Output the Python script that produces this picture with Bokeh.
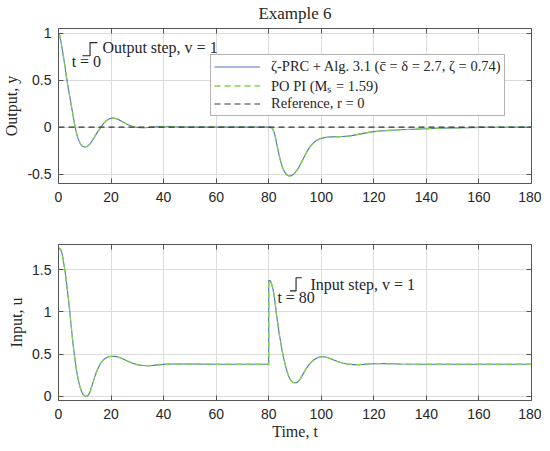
from bokeh.plotting import figure
from bokeh.layouts import column
from bokeh.models import (Range1d, FixedTicker, LinearAxis, Legend, LegendItem, Label)
from bokeh.embed import file_html
from bokeh.resources import INLINE

# ---------------- data ----------------
t_y = [0, 0.5, 1, 1.5, 2, 2.5, 3, 3.5, 4, 4.5, 5, 5.5, 6, 6.5, 7, 7.5, 8, 8.5, 9, 9.5,
       10, 10.5, 11, 12, 13, 14, 15, 16, 17, 18, 19, 20, 21, 22, 23, 24, 25, 26, 27, 28,
       29, 30, 32, 34, 36, 38, 40, 43, 46, 50, 60, 70, 80, 80.5, 81, 81.5, 82, 82.5, 83,
       83.5, 84, 84.5, 85, 85.5, 86, 86.5, 87, 87.5, 88, 88.5, 89, 89.5, 90, 91, 92, 93,
       94, 95, 96, 97, 98, 99, 100, 102, 104, 106, 108, 110, 112, 115, 118, 120, 125,
       130, 135, 140, 145, 150, 160, 170, 180]
y_prc = [1.0, 0.97, 0.9, 0.82, 0.73, 0.64, 0.54, 0.45, 0.37, 0.29, 0.21, 0.13, 0.05, -0.02,
         -0.08, -0.125, -0.16, -0.185, -0.2, -0.209, -0.212, -0.21, -0.204, -0.178, -0.137,
         -0.09, -0.045, -0.005, 0.035, 0.064, 0.084, 0.094, 0.096, 0.09, 0.078, 0.063, 0.047,
         0.032, 0.019, 0.009, 0.002, -0.003, -0.006, -0.004, 0.0, 0.003, 0.004, 0.004, 0.002,
         0.0, 0.0, 0.0, 0.0, 0.0, -0.005, -0.02, -0.05, -0.1, -0.17, -0.24, -0.305, -0.36,
         -0.41, -0.445, -0.475, -0.495, -0.51, -0.518, -0.52, -0.518, -0.51, -0.5, -0.485,
         -0.45, -0.4, -0.345, -0.29, -0.24, -0.2, -0.167, -0.145, -0.13, -0.12, -0.108,
         -0.104, -0.103, -0.1, -0.096, -0.088, -0.072, -0.056, -0.048, -0.036, -0.028,
         -0.022, -0.017, -0.012, -0.008, -0.003, -0.001, 0.0]
y_pi = list(y_prc)

t_u = [0, 0.5, 1, 1.5, 2, 2.5, 3, 3.5, 4, 4.5, 5, 5.5, 6, 6.5, 7, 7.5, 8, 8.5, 9, 9.5, 10,
       10.5, 11, 11.5, 12, 13, 14, 15, 16, 17, 18, 19, 20, 21, 22, 23, 24, 25, 26, 27, 28,
       29, 30, 32, 34, 36, 38, 40, 43, 46, 50, 60, 70, 80, 80, 80.5, 81, 81.5, 82, 82.5,
       83, 83.5, 84, 84.5, 85, 85.5, 86, 86.5, 87, 87.5, 88, 88.5, 89, 89.5, 90, 90.5, 91,
       92, 93, 94, 95, 96, 97, 98, 99, 100, 101, 102, 103, 104, 105, 106, 107, 108, 110,
       112, 114, 116, 118, 120, 123, 126, 130, 140, 150, 160, 170, 180]
u_prc = [1.74, 1.757, 1.73, 1.67, 1.58, 1.48, 1.36, 1.23, 1.09, 0.94, 0.78, 0.63, 0.5, 0.38,
         0.28, 0.2, 0.13, 0.08, 0.04, 0.017, 0.004, 0.0, 0.005, 0.02, 0.05, 0.15, 0.25, 0.33,
         0.39, 0.43, 0.455, 0.468, 0.473, 0.474, 0.47, 0.462, 0.45, 0.437, 0.422, 0.408,
         0.395, 0.384, 0.375, 0.365, 0.362, 0.366, 0.372, 0.378, 0.382, 0.383, 0.382, 0.38,
         0.38, 0.38, 1.37, 1.375, 1.34, 1.29, 1.2, 1.09, 0.96, 0.85, 0.74, 0.65, 0.56, 0.48,
         0.41, 0.35, 0.29, 0.245, 0.21, 0.185, 0.17, 0.162, 0.16, 0.162, 0.168, 0.205, 0.26,
         0.315, 0.36, 0.4, 0.428, 0.448, 0.462, 0.468, 0.468, 0.462, 0.452, 0.44, 0.428,
         0.415, 0.404, 0.395, 0.383, 0.376, 0.375, 0.378, 0.383, 0.386, 0.387, 0.385, 0.382,
         0.38, 0.38, 0.38, 0.38, 0.38]
u_pi = list(u_prc)

t_ref = [0, 180]
r_ref = [0, 0]

x_ticks = [0, 20, 40, 60, 80, 100, 120, 140, 160, 180]
y_ticks_top = [-0.5, 0, 0.5, 1]
y_labels_top = ["-0.5", "0", "0.5", "1"]
y_ticks_bot = [0, 0.5, 1, 1.5]
y_labels_bot = ["0", "0.5", "1", "1.5"]

title_text = "Example 6"
leg_labels = ["ζ-PRC + Alg. 3.1 (c̄ = δ = 2.7, ζ = 0.74)", "PO PI (Mₛ = 1.59)", "Reference, r = 0"]

# ---------------- styling ----------------
BLUE = "#4F6FC4"
GREEN = "#7ED348"
AXC = "#262626"
SERIF = "Liberation Serif"
SANS = "Liberation Sans"


def style(p, yticks, ylabels, ylabel, title=None):
    xb = p.below[0]
    yl = p.left[0]
    xb.ticker = FixedTicker(ticks=x_ticks)
    yl.ticker = FixedTicker(ticks=yticks)
    yl.major_label_overrides = {k: v for k, v in zip(yticks, ylabels)}
    p.xgrid.ticker = FixedTicker(ticks=x_ticks)
    p.ygrid.ticker = FixedTicker(ticks=yticks)
    p.grid.grid_line_color = "#dcdcdc"
    p.grid.grid_line_width = 1
    for ax in (xb, yl):
        ax.major_tick_in = 5
        ax.major_tick_out = 0
        ax.minor_tick_in = 0
        ax.minor_tick_out = 0
        ax.axis_line_color = "#555555"
        ax.major_tick_line_color = "#555555"
        ax.major_label_text_font = SANS
        ax.major_label_text_font_size = "14px"
        ax.major_label_text_color = AXC
        ax.axis_label_text_font = SERIF
        ax.axis_label_text_font_size = "16px"
        ax.axis_label_text_font_style = "normal"
        ax.axis_label_text_color = AXC
    xb.major_label_standoff = 8
    yl.major_label_standoff = 7
    yl.axis_label = ylabel
    yl.axis_label_standoff = 4
    # box: extra axes above and right, ticks only (labels not drawn)
    for loc, tk in (("above", x_ticks), ("right", yticks)):
        ax = LinearAxis(ticker=FixedTicker(ticks=tk), major_label_text_color=None,
                        major_label_text_font_size="1px",
                        major_tick_in=5, major_tick_out=0, minor_tick_in=0, minor_tick_out=0,
                        axis_line_color="#555555", major_tick_line_color="#555555",
                        major_label_standoff=0)
        if loc == "above" and title:
            ax.axis_label = title
            ax.axis_label_text_font = SERIF
            ax.axis_label_text_font_size = "17px"
            ax.axis_label_text_font_style = "normal"
            ax.axis_label_text_color = AXC
            ax.axis_label_standoff = 6
        p.add_layout(ax, loc)
    p.outline_line_color = None
    return xb


# ---------------- top figure ----------------
p1 = figure(width=541, height=213, output_backend="svg", toolbar_location=None,
            x_range=Range1d(0, 180), y_range=Range1d(-0.6, 1.05),
            min_border_left=58, min_border_right=10, min_border_top=28, min_border_bottom=30)
style(p1, y_ticks_top, y_labels_top, "Output, y", title_text)

r1 = p1.line(t_y, y_prc, line_color=BLUE, line_width=1.1)
r2 = p1.line(t_y, y_pi, line_color=GREEN, line_width=1.3, line_dash="6 4")
r3 = p1.line(t_ref, r_ref, line_color="#333333", line_width=1.1, line_dash="6 4")

legend = Legend(items=[LegendItem(label=leg_labels[0], renderers=[r1]),
                       LegendItem(label=leg_labels[1], renderers=[r2]),
                       LegendItem(label=leg_labels[2], renderers=[r3])],
                location=(152, 67))
legend.label_text_font = SERIF
legend.label_text_font_size = "14.5px"
legend.label_text_color = AXC
legend.glyph_width = 46
legend.glyph_height = 17
legend.label_height = 17
legend.label_standoff = 11
legend.spacing = 0
legend.padding = 3
legend.margin = 0
legend.border_line_color = "#666666"
legend.border_line_width = 1
legend.background_fill_alpha = 1
p1.add_layout(legend)

# annotation: output step
p1.line([9.1, 12.0, 12.0, 14.8], [0.76, 0.76, 0.90, 0.90], line_color="#222222", line_width=1.1)
p1.add_layout(Label(x=16.7, y=0.845, text="Output step, v = 1", text_font=SERIF,
                    text_font_size="16px", text_color=AXC, text_baseline="middle"))
p1.add_layout(Label(x=5.0, y=0.70, text="t = 0", text_font=SERIF,
                    text_font_size="16px", text_color=AXC, text_baseline="middle"))

# ---------------- bottom figure ----------------
p2 = figure(width=541, height=235, output_backend="svg", toolbar_location=None,
            x_range=Range1d(0, 180), y_range=Range1d(-0.05, 1.8),
            min_border_left=58, min_border_right=10, min_border_top=31, min_border_bottom=48)
xb2 = style(p2, y_ticks_bot, y_labels_bot, "Input, u")
xb2.axis_label = "Time, t"
xb2.axis_label_standoff = 1

p2.line(t_u, u_prc, line_color=BLUE, line_width=1.1)
p2.line(t_u, u_pi, line_color=GREEN, line_width=1.3, line_dash="6 4")

p2.line([88.1, 90.4, 90.4, 92.6], [1.25, 1.25, 1.405, 1.405], line_color="#222222", line_width=1.1)
p2.add_layout(Label(x=95.9, y=1.327, text="Input step, v = 1", text_font=SERIF,
                    text_font_size="16px", text_color=AXC, text_baseline="middle"))
p2.add_layout(Label(x=83.3, y=1.173, text="t = 80", text_font=SERIF,
                    text_font_size="16px", text_color=AXC, text_baseline="middle"))

layout = column(p1, p2, spacing=0)
open("out.html", "w").write(file_html(layout, INLINE))
